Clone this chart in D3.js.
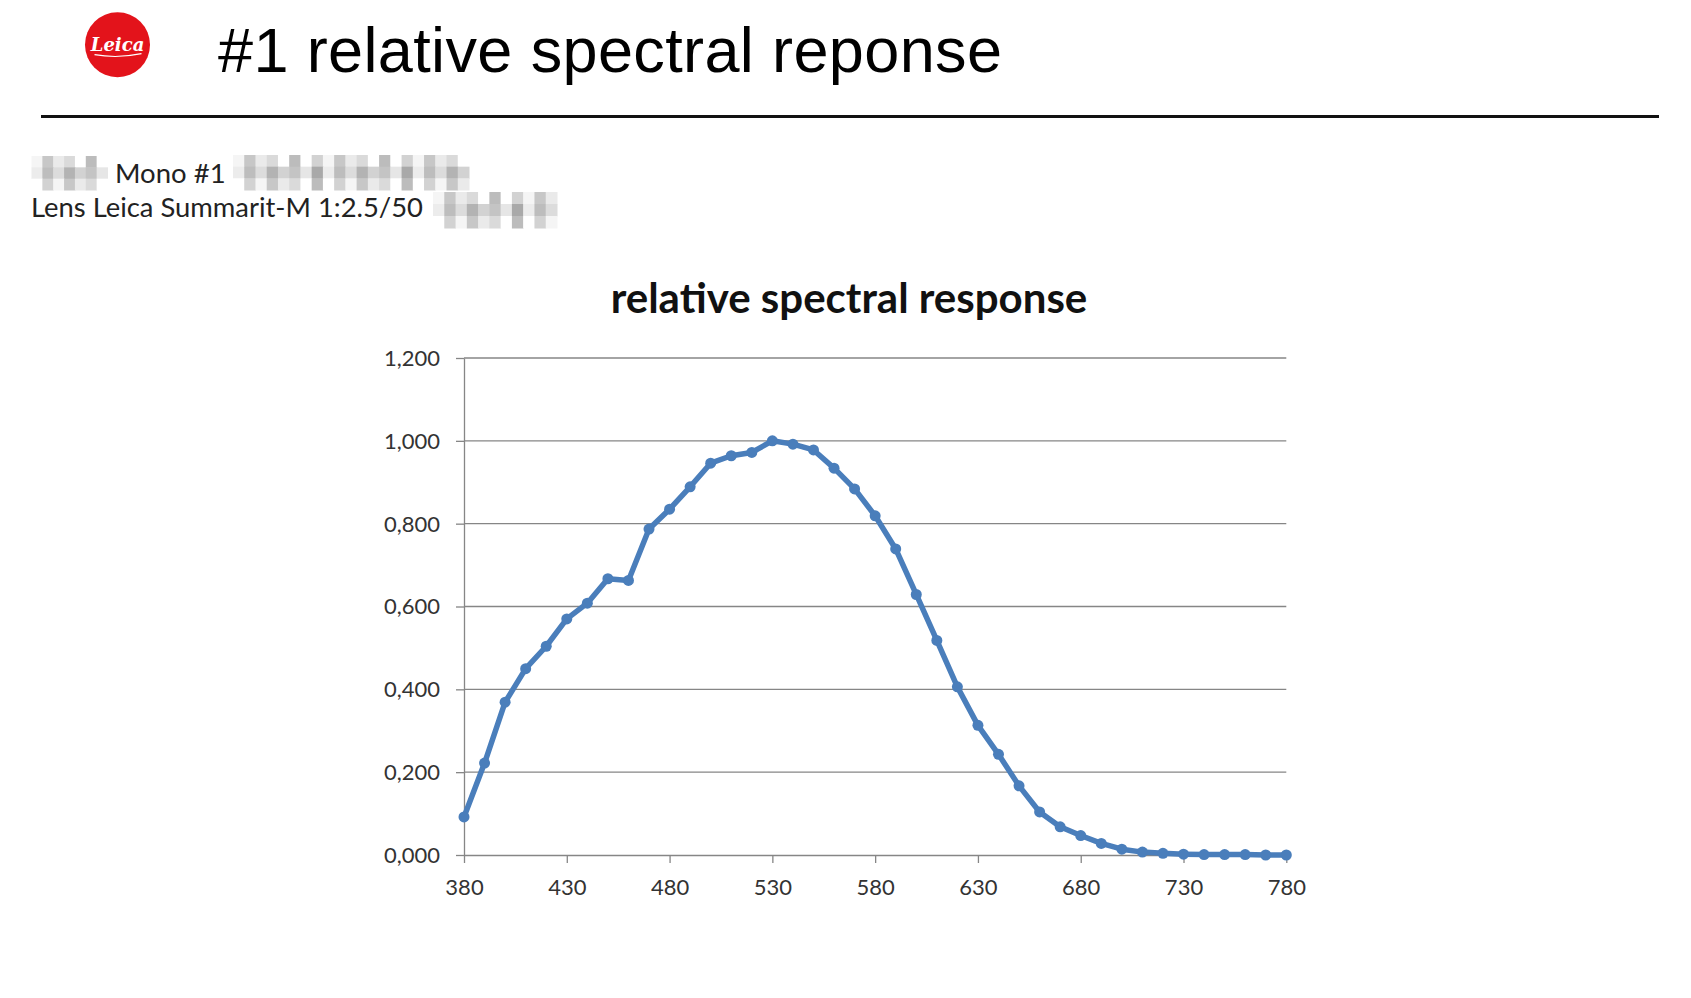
<!DOCTYPE html>
<html>
<head>
<meta charset="utf-8">
<script src="https://cdn.jsdelivr.net/npm/d3@7"></script>
<style>
  body { margin: 0; background: #fff; }
  svg { display: block; }
  .axis text { font-family: Lato, "Open Sans", sans-serif; font-size: 22px; fill: #333; }
  .axis path, .axis line { stroke: #868686; stroke-width: 1.3; }
</style>
</head>
<body>
<div id="chart"></div>
<script>
// wavelength (nm) and relative response
const wavelengths = [380, 390, 400, 410, 420, 430, 440, 450, 460, 470,
  480, 490, 500, 510, 520, 530, 540, 550, 560, 570,
  580, 590, 600, 610, 620, 630, 640, 650, 660, 670,
  680, 690, 700, 710, 720, 730, 740, 750, 760, 770, 780];
const response = [0.092, 0.222, 0.369, 0.450, 0.504, 0.570, 0.608, 0.667, 0.663, 0.787,
  0.835, 0.889, 0.946, 0.964, 0.972, 1.000, 0.992, 0.978, 0.934, 0.884,
  0.819, 0.739, 0.629, 0.518, 0.406, 0.313, 0.243, 0.167, 0.104, 0.068,
  0.047, 0.028, 0.014, 0.007, 0.004, 0.002, 0.001, 0.001, 0.001, 0.000, 0.000];
const xTicks = [380, 430, 480, 530, 580, 630, 680, 730, 780];
const yTicks = [0, 0.2, 0.4, 0.6, 0.8, 1.0, 1.2];

const pageTitle = "#1 relative spectral reponse";
const chartTitle = "relative spectral response";
const infoLines = ["Mono #1", "Lens Leica Summarit-M 1:2.5/50"];

const width = 1691;
const height = 998;
const margin = { top: 358, right: 405, bottom: 143, left: 464 };
const blue = "#4a7ebb";

const svg = d3.select("#chart").append("svg")
  .attr("width", width)
  .attr("height", height)
  .attr("viewBox", [0, 0, width, height]);

svg.append("rect").attr("width", width).attr("height", height).attr("fill", "#fff");

// ---- header: logo, title, rule
const logo = svg.append("g").attr("transform", "translate(117.5,44.7)");
logo.append("circle").attr("r", 32.5).attr("fill", "#e3131b");
logo.append("text")
  .attr("text-anchor", "middle")
  .attr("y", 6)
  .attr("fill", "#fff")
  .attr("font-family", "DejaVu Serif, serif")
  .attr("font-style", "italic")
  .attr("font-weight", "bold")
  .attr("font-size", 18)
  .text("Leica");
logo.append("path")
  .attr("d", "M-23,10 Q0,14 24,9")
  .attr("fill", "none")
  .attr("stroke", "#fff")
  .attr("stroke-width", 1.2);

svg.append("text")
  .attr("x", 218)
  .attr("y", 71.5)
  .attr("font-family", "Liberation Sans, Arial, sans-serif")
  .attr("font-size", 63)
  .attr("fill", "#000")
  .attr("textLength", 784)
  .attr("lengthAdjust", "spacing")
  .text(pageTitle);

svg.append("line")
  .attr("x1", 41).attr("x2", 1659)
  .attr("y1", 116.5).attr("y2", 116.5)
  .attr("stroke", "#111")
  .attr("stroke-width", 3);

// ---- pixelated (blurred) blocks next to the info text
const mosaicShades = ["#e6e6e6", "#bdbdbd", "#d2d2d2", "#a9a9a9", "#dcdcdc", "#c4c4c4", "#ececec", "#b3b3b3"];
function mosaic(x, y, w, h) {
  const cell = 11.5;
  const cols = Math.round(w / cell), rows = 3;
  const g = svg.append("g").attr("transform", `translate(${x},${y})`);
  const cells = d3.cross(d3.range(rows), d3.range(cols));
  g.selectAll("rect")
    .data(cells)
    .join("rect")
    .attr("x", ([, c]) => c * (w / cols))
    .attr("y", ([r]) => r * (h / rows))
    .attr("width", w / cols + 0.5)
    .attr("height", h / rows + 0.5)
    .attr("fill", ([r, c]) => {
      const k = (c * 3 + r * 5 + (r === 1 ? 1 : 4)) % mosaicShades.length;
      return r === 1 ? mosaicShades[k] : d3.color(mosaicShades[k]).brighter(0.3);
    });
}
mosaic(31.5, 156, 76, 34);
mosaic(233, 155, 236, 35);
mosaic(433, 192, 124, 36);

svg.append("text")
  .attr("x", 115).attr("y", 182.5)
  .attr("font-family", "Lato, sans-serif")
  .attr("font-size", 27.5)
  .attr("fill", "#222")
  .text(infoLines[0]);
svg.append("text")
  .attr("x", 31).attr("y", 217)
  .attr("font-family", "Lato, sans-serif")
  .attr("font-size", 27.5)
  .attr("fill", "#222")
  .attr("textLength", 392)
  .attr("lengthAdjust", "spacingAndGlyphs")
  .text(infoLines[1]);

// ---- chart
const x = d3.scaleLinear()
  .domain([380, 780])
  .range([margin.left, width - margin.right + 0.3]);
const y = d3.scaleLinear()
  .domain([0, 1.2])
  .range([height - margin.bottom, margin.top]);

svg.append("text")
  .attr("x", 849)
  .attr("y", 313)
  .attr("text-anchor", "middle")
  .attr("font-family", "Lato, sans-serif")
  .attr("font-weight", "bold")
  .attr("font-size", 42)
  .attr("fill", "#111")
  .text(chartTitle);

const gGrid = svg.append("g")
  .attr("stroke", "#868686")
  .attr("stroke-width", 1.3);
gGrid.selectAll("line")
  .data(yTicks.filter((d) => d !== 0))
  .join("line")
  .attr("x1", margin.left)
  .attr("x2", x(780))
  .attr("y1", (d) => y(d))
  .attr("y2", (d) => y(d));

const fmt = (d) => d3.format(".3f")(d).replace(".", ",");

svg.append("g")
  .attr("class", "axis")
  .attr("transform", `translate(${margin.left},0)`)
  .call(d3.axisLeft(y).tickValues(yTicks).tickFormat(fmt).tickSize(8).tickSizeOuter(0).tickPadding(16))
  .call((g) => g.selectAll(".tick text").attr("dy", "0.34em"));

svg.append("g")
  .attr("class", "axis")
  .attr("transform", `translate(0,${y(0)})`)
  .call(d3.axisBottom(x).tickValues(xTicks).tickFormat(d3.format("d")).tickSize(8).tickSizeOuter(0).tickPadding(16))
  .call((g) => g.selectAll(".tick text").attr("dy", "0.71em"));

const points = wavelengths.map((w, i) => ({ w, v: response[i] }));

svg.append("path")
  .datum(points)
  .attr("fill", "none")
  .attr("stroke", blue)
  .attr("stroke-width", 5.5)
  .attr("stroke-linejoin", "round")
  .attr("stroke-linecap", "round")
  .attr("d", d3.line().x((d) => x(d.w)).y((d) => y(d.v)));

svg.append("g")
  .attr("fill", blue)
  .selectAll("circle")
  .data(points)
  .join("circle")
  .attr("cx", (d) => x(d.w))
  .attr("cy", (d) => y(d.v))
  .attr("r", 5.5);
</script>
</body>
</html>
